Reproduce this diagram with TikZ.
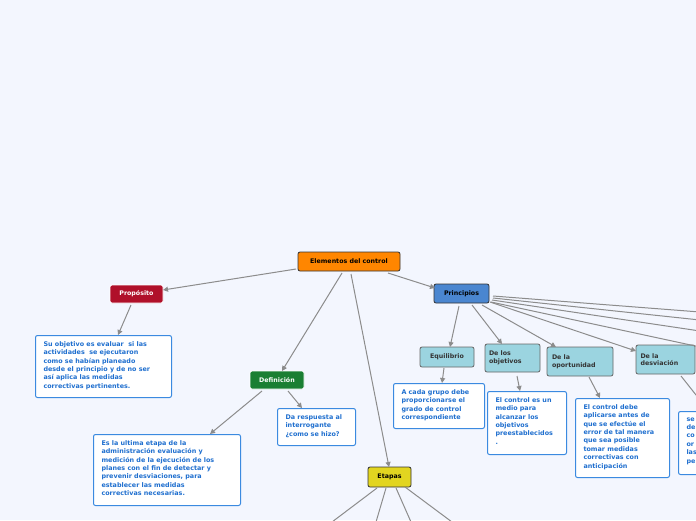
\documentclass[tikz,border=0pt]{standalone}
\usepackage{fontspec}
\setmainfont{DejaVu Sans}
\usetikzlibrary{arrows.meta}
\definecolor{bg}{HTML}{F3F6FE}
\definecolor{txtb}{HTML}{1F6FCF}
\definecolor{bordb}{HTML}{3B8AE0}
\definecolor{lb}{HTML}{9BD4E0}
\tikzset{
 x=1pt,y=-1pt,
 topic/.style={draw=black!80,rounded corners=2pt,line width=0.8pt,font=\fontsize{6.3}{7.6}\selectfont\bfseries,inner sep=0pt,align=center},
 sub/.style={topic,fill=lb,draw=black!60,text=black!80},
 note/.style={draw=bordb,fill=white,rounded corners=2pt,line width=1pt,text=txtb,font=\fontsize{6.4}{8.4}\selectfont\bfseries,align=left,inner sep=0pt},
 link/.style={draw=black!45,line width=1pt,-{Triangle[length=5pt,width=5pt]}},
 line/.style={draw=black!45,line width=1pt}
}
\begin{document}
\begin{tikzpicture}
\fill[bg] (0,0) rectangle (696,520);
\useasboundingbox (0,0) rectangle (696,520);
\begin{scope}
\clip (0,0) rectangle (696,520);
\node[topic,fill=orange!95!yellow,minimum width=102,minimum height=19] (root) at (349,261.5) {Elementos del control};
\node[topic,fill={rgb,255:red,176;green,16;blue,42},text=white,draw=white,minimum width=53,minimum height=18] (prop) at (136.5,294) {Propósito};
\node[note,minimum width=136,minimum height=62,anchor=north west] (propn) at (35,335) {};
\node[note,anchor=north west,draw=none,fill=none] at (43,341) {Su objetivo es evaluar\ \ si las\\actividades\ \ se ejecutaron\\como se habían planeado\\desde el principio y de no ser\\así aplica las medidas\\correctivas pertinentes.};
\node[topic,fill={rgb,255:red,26;green,127;blue,51},text=white,draw=white,minimum width=54,minimum height=18] (def) at (277,380) {Definición};
\node[note,minimum width=78,minimum height=37,anchor=north west] (defa) at (277,408) {};
\node[note,anchor=north west,draw=none,fill=none] at (285,414) {Da respuesta al\\interrogante\\¿como se hizo?};
\node[note,minimum width=147,minimum height=71,anchor=north west] (defb) at (93,434) {};
\node[note,anchor=north west,draw=none,fill=none] at (101,440) {Es la ultima etapa de la\\administración evaluación y\\medición de la ejecución de los\\planes con el fin de detectar y\\prevenir desviaciones, para\\establecer las medidas\\correctivas necesarias.};
\node[topic,fill={rgb,255:red,226;green,213;blue,32},minimum width=43,minimum height=20] (eta) at (389.5,477) {Etapas};
\node[topic,fill={rgb,255:red,74;green,134;blue,208},minimum width=55,minimum height=19] (pri) at (461.5,293.5) {Principios};
\node[sub,minimum width=54,minimum height=20] (equ) at (447,357) {Equilibrio};
\node[sub,minimum width=55,minimum height=28,align=left,text width=47] (obj) at (512.5,358) {De los\\objetivos};
\node[sub,minimum width=66,minimum height=29,align=left,text width=56] (opo) at (580,361.5) {De la\\oportunidad};
\node[sub,minimum width=59,minimum height=29,align=left,text width=50] (des) at (665.5,359.5) {De la\\desviación};
\node[note,minimum width=91,minimum height=45,anchor=north west] (equn) at (393,383) {};
\node[note,anchor=north west,draw=none,fill=none] at (401,389) {A cada grupo debe\\proporcionarse el\\grado de control\\correspondiente};
\node[note,minimum width=79,minimum height=63,anchor=north west] (objn) at (487,391) {};
\node[note,anchor=north west,draw=none,fill=none] at (495,397) {El control es un\\medio para\\alcanzar los\\objetivos\\preestablecidos\\.};
\node[note,minimum width=94,minimum height=79,anchor=north west] (opon) at (575,398) {};
\node[note,anchor=north west,draw=none,fill=none] at (583,404) {El control debe\\aplicarse antes de\\que se efectúe el\\error de tal manera\\que sea posible\\tomar medidas\\correctivas con\\anticipación};
\node[note,minimum width=60,minimum height=63,anchor=north west] (desn) at (678,411) {};
\node[note,anchor=north west,draw=none,fill=none] at (686,417) {se\\de\\co\\or\\las\\pe};
\coordinate (r1) at (700,312);
\coordinate (r2) at (700,320);
\coordinate (r3) at (700,331);
\coordinate (r4) at (700,347);
\coordinate (e1) at (332,522);
\coordinate (e2) at (376,522);
\coordinate (e3) at (411,522);
\coordinate (e4) at (452,522);
\draw[link] (296,269) -- (163,290);
\draw[link] (342,273) -- (282,371);
\draw[link] (351,274) -- (389,467);
\draw[link] (388,273) -- (435,288);
\draw[link] (131,305) -- (118,335);
\draw[link] (262,391) -- (210,434);
\draw[link] (288,391) -- (302,408);
\draw[link] (459,306) -- (450,347);
\draw[link] (472,305) -- (502,344);
\draw[link] (482,305) -- (556,347);
\draw[link] (490,302) -- (636,351);
\draw[link] (444,368) -- (442,383);
\draw[link] (517,376) -- (520,391);
\draw[link] (589,377) -- (600,398);
\draw[line] (681,376) -- (700,400);
\draw[line] (493,296) -- (r1);
\draw[line] (493,298) -- (r2);
\draw[line] (492,300) -- (r3);
\draw[line] (491,302) -- (r4);
\draw[line] (377,488) -- (e1);
\draw[line] (386,488) -- (e2);
\draw[line] (396,488) -- (e3);
\draw[line] (405,487) -- (e4);
\end{scope}
\end{tikzpicture}
\end{document}
